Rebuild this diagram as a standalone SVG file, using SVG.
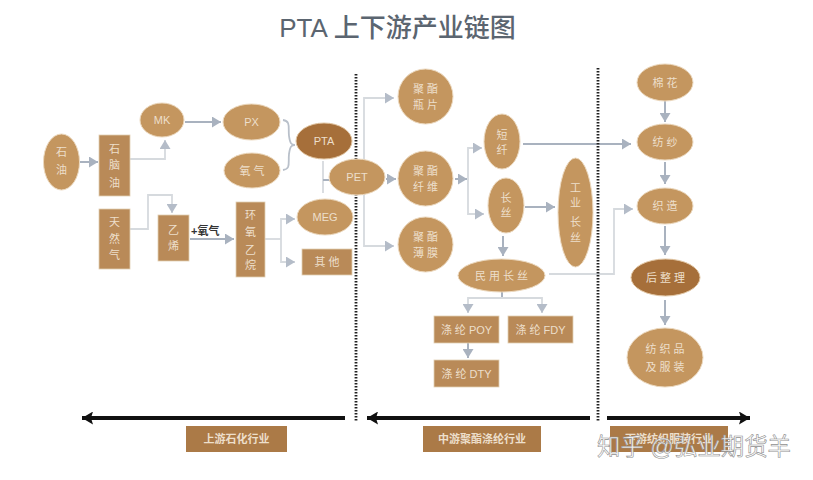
<svg xmlns="http://www.w3.org/2000/svg" width="813" height="480" viewBox="0 0 813 480">
<style>
.n{fill:#c4965f;stroke:#ecd9bf;stroke-width:1}
.d{fill:#a66f3a;stroke:#e2c7a5;stroke-width:1}
.r{fill:#b98a58;stroke:#e2cfb4;stroke-width:.8}
.b{fill:#ab7a47}
text{font-family:"Liberation Sans","Noto Sans CJK SC",sans-serif}
.t{font-size:11px;fill:#eddfcb;text-anchor:middle;dominant-baseline:central}
.s{letter-spacing:3px}
.c{fill:none;stroke:#a9b2bf;stroke-width:2}
.a{marker-end:url(#ah)}
.l{fill:none;stroke:#d6dade;stroke-width:1.8}
.la{marker-end:url(#ahl)}
.k{fill:none;stroke:#111;stroke-width:4;marker-end:url(#bk)}
.dot{stroke:#222;stroke-width:2.8;stroke-dasharray:1.6 1.4;fill:none}
</style>
<defs>
<marker id="ah" markerUnits="userSpaceOnUse" markerWidth="10" markerHeight="11" refX="9" refY="5.500" orient="auto"><path d="M0 0L9 5.500L0 11Z" fill="#a9b2bf"/></marker>
<marker id="ahl" markerUnits="userSpaceOnUse" markerWidth="10" markerHeight="11" refX="9" refY="5.500" orient="auto"><path d="M0 0L9 5.500L0 11Z" fill="#b4bcc8"/></marker>
<marker id="bk" markerUnits="userSpaceOnUse" markerWidth="12" markerHeight="13" refX="11" refY="6.500" orient="auto"><path d="M0 0L11 6.500L0 13L2 6.500Z" fill="#111"/></marker>
</defs>
<rect width="813" height="480" fill="#fff"/>
<text x="397.500" y="37" font-size="26" fill="#5b6570" text-anchor="middle" font-weight="500">PTA 上下游产业链图</text>

<g id="connectors">
<path class="c a" d="M80 162H98"/>
<path class="l la" d="M130 159H165V140"/>
<path class="c a" d="M185 122H221"/>
<path class="l" style="stroke:#b9c0ca" d="M283 120C291 121 288 128 289 136C290 143 291 145 295 145C291 145 290 147 289 154C288 163 291 169 283 170"/>
<path class="l" d="M323 161V193"/>
<path class="c" d="M323 180H330"/>
<path class="l la" d="M130 229H148V195H172V213"/>
<path class="c a" d="M190 239H234"/>
<path class="l" d="M265 239H281"/>
<path class="l la" d="M281 239V219H295"/>
<path class="l la" d="M281 239V262H295"/>
<path class="l" d="M393 98H364V246H393"/>
<path class="l la" d="M384 98H394"/>
<path class="l la" d="M384 246H394"/>
<path class="c a" d="M386 179H396"/>
<path class="c a" d="M455 179H467"/>
<path class="l la" d="M468 179V148H482"/>
<path class="l la" d="M468 179V214H484"/>
<path class="c a" d="M523 144H631"/>
<path class="c a" d="M525 207H555"/>
<path class="c a" d="M503 236V256"/>
<path class="l la" d="M549 274H614V209H633"/>
<path class="c" d="M502 292V298"/>
<path class="l la" d="M502 298H468V313"/>
<path class="l la" d="M502 298H542V313"/>
<path class="c a" d="M468 343V358"/>
<path class="c a" d="M665 101V122"/>
<path class="c a" d="M665 162V184"/>
<path class="c a" d="M665 226V255"/>
<path class="c a" d="M665 300V325"/>
<path class="dot" d="M356 74V422"/>
<path class="dot" d="M598 68V422"/>
<path class="k" d="M345 418H82"/>
<path class="k" d="M590 418H367"/>
<path class="k" d="M607 418H750"/>
</g>

<g id="n-shiyou"><ellipse class="n" cx="61.500" cy="162" rx="18" ry="28"/><text class="t" x="61.500" y="152">石</text><text class="t" x="61.500" y="170">油</text></g>
<g id="n-naphtha"><rect class="r" x="99" y="135" width="31" height="61"/><text class="t" x="114.500" y="149">石</text><text class="t" x="114.500" y="165">脑</text><text class="t" x="114.500" y="183">油</text></g>
<g id="n-mk"><ellipse class="n" cx="162" cy="120" rx="22" ry="17"/><text class="t" x="162" y="120">MK</text></g>
<g id="n-px"><ellipse class="n" cx="251.500" cy="122" rx="28.500" ry="18"/><text class="t" x="251.500" y="122">PX</text></g>
<g id="n-h"><ellipse class="n" cx="252" cy="170.500" rx="28" ry="17.500"/><text class="t s" x="253.500" y="170.500">氧气</text></g>
<g id="n-pta"><ellipse class="d" cx="324" cy="141" rx="28" ry="18"/><text class="t" x="324" y="141">PTA</text></g>
<g id="n-pet"><ellipse class="n" cx="357" cy="177" rx="28" ry="18"/><text class="t" x="357" y="177">PET</text></g>
<g id="n-meg"><ellipse class="n" cx="325" cy="217" rx="28" ry="18"/><text class="t" x="325" y="217">MEG</text></g>
<g id="n-other"><rect class="r" x="302" y="249" width="50" height="26"/><text class="t s" x="328.500" y="262">其他</text></g>
<g id="n-gas"><rect class="r" x="99" y="209" width="31" height="60"/><text class="t" x="114.500" y="222">天</text><text class="t" x="114.500" y="239">然</text><text class="t" x="114.500" y="255">气</text></g>
<g id="n-ethylene"><rect class="r" x="158" y="215" width="31" height="46"/><text class="t" x="173.500" y="230">乙</text><text class="t" x="173.500" y="246">烯</text></g>
<text x="191" y="235" font-size="11" fill="#333" font-weight="bold">+氧气</text>
<g id="n-eo"><rect class="r" x="236" y="202" width="29" height="75"/><text class="t" x="250.500" y="215">环</text><text class="t" x="250.500" y="232">氧</text><text class="t" x="250.500" y="250">乙</text><text class="t" x="250.500" y="265">烷</text></g>

<g id="n-chip"><circle class="n" cx="425.500" cy="96.500" r="27.500"/><text class="t s" x="427" y="89">聚酯</text><text class="t s" x="427" y="105">瓶片</text></g>
<g id="n-fiber"><circle class="n" cx="425.500" cy="178.500" r="27.500"/><text class="t s" x="427" y="171">聚酯</text><text class="t s" x="427" y="187">纤维</text></g>
<g id="n-film"><circle class="n" cx="425.500" cy="244.500" r="27.500"/><text class="t s" x="427" y="237">聚酯</text><text class="t s" x="427" y="253">薄膜</text></g>
<g id="n-staple"><ellipse class="n" cx="502" cy="141.500" rx="18" ry="27.500"/><text class="t" x="502" y="135">短</text><text class="t" x="502" y="150">纤</text></g>
<g id="n-filament"><ellipse class="n" cx="506" cy="205.500" rx="18" ry="27.500"/><text class="t" x="506" y="198">长</text><text class="t" x="506" y="213">丝</text></g>
<g id="n-industrial"><ellipse class="n" cx="575.500" cy="212.500" rx="17.500" ry="54.500"/><text class="t" x="575.500" y="188">工</text><text class="t" x="575.500" y="203">业</text><text class="t" x="575.500" y="222">长</text><text class="t" x="575.500" y="238">丝</text></g>
<g id="n-civil"><ellipse class="n" cx="501.500" cy="275.500" rx="43.500" ry="16.500"/><text class="t s" x="503" y="275.500">民用长丝</text></g>
<g id="n-poy"><rect class="r" x="434" y="316" width="65" height="27"/><text class="t" x="466.500" y="329.500"><tspan class="s">涤纶</tspan>POY</text></g>
<g id="n-fdy"><rect class="r" x="508" y="316" width="65" height="27"/><text class="t" x="540.500" y="329.500"><tspan class="s">涤纶</tspan>FDY</text></g>
<g id="n-dty"><rect class="r" x="434" y="360" width="65" height="27"/><text class="t" x="466.500" y="373.500"><tspan class="s">涤纶</tspan>DTY</text></g>

<g id="n-cotton"><ellipse class="n" cx="665" cy="82.500" rx="28" ry="18.500"/><text class="t s" x="666.500" y="82.500">棉花</text></g>
<g id="n-spin"><ellipse class="n" cx="665" cy="142" rx="28" ry="18"/><text class="t s" x="666.500" y="142">纺纱</text></g>
<g id="n-weave"><ellipse class="n" cx="665" cy="206" rx="28" ry="18"/><text class="t s" x="666.500" y="206">织造</text></g>
<g id="n-finish"><ellipse class="d" cx="665.500" cy="277.500" rx="34.500" ry="18.500"/><text class="t s" x="667" y="277.500">后整理</text></g>
<g id="n-garment"><ellipse class="n" cx="665" cy="357.500" rx="38" ry="29.500"/><text class="t s" x="666.500" y="349">纺织品</text><text class="t s" x="666.500" y="367">及服装</text></g>

<g id="n-up"><rect class="b" x="186" y="426" width="101" height="26"/><text class="t" x="236.500" y="439" font-weight="bold">上游石化行业</text></g>
<g id="n-mid"><rect class="b" x="423" y="426" width="118" height="26"/><text class="t" x="482" y="439" font-weight="bold">中游聚酯涤纶行业</text></g>
<g id="n-down"><rect class="b" x="610" y="426" width="118" height="26"/><text class="t" x="669" y="439" font-weight="bold">下游纺织服装行业</text></g>
<text x="597" y="455" font-size="23.400" fill="#fff" fill-opacity=".9" stroke="#8f8f8f" stroke-width=".6">知乎 @弘业期货羊</text>
</svg>
